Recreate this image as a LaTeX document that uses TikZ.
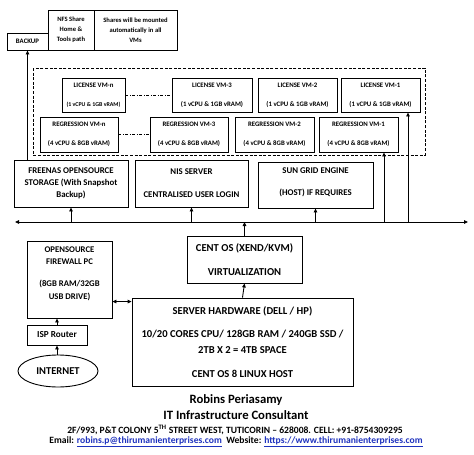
\documentclass[tikz,border=0pt]{standalone}
\usepackage{fontspec}
\setmainfont{Carlito}
\usetikzlibrary{shapes.geometric,arrows.meta}
\definecolor{linkblue}{RGB}{30,50,190}
\newcommand{\fs}[2]{\fontsize{#1}{#2}\selectfont}
\begin{document}
\begin{tikzpicture}[x=1pt,y=-1pt,
  box/.style={draw,line width=0.9pt,inner sep=0pt,align=center,font=\bfseries\fs{6.8}{8}},
  bigbox/.style={box,font=\bfseries\fs{8.8}{12}},
  txt/.style={inner sep=0pt,align=center},
  arr/.style={line width=0.9pt,-{Triangle[length=4pt,width=3.6pt]}},
  darr/.style={line width=0.9pt,{Triangle[length=4pt,width=3.6pt]}-{Triangle[length=4pt,width=3.6pt]}},
  dd/.style={line width=0.8pt,dash pattern=on 3pt off 1.5pt on 1pt off 1.5pt}]
\useasboundingbox (0,0) rectangle (474,455);
% top boxes
\node[box,minimum width=41,minimum height=17] (backup) at (27.5,41.5) {BACKUP};
\node[box,font=\bfseries\fs{6.6}{10},minimum width=46,minimum height=40] (nfs) at (71,30) {NFS Share\\Home \&\\Tools path};
\node[box,font=\bfseries\fs{6.6}{10},minimum width=83,minimum height=40] (shares) at (135.5,30) {Shares will be mounted\\automatically in all\\VMs};
% dashed VM area
\draw[line width=0.8pt,dash pattern=on 3pt off 1.6pt] (33,68) rectangle (425,155);
% license row
\node[box,minimum width=63,minimum height=34] (licn) at (93.5,95) {LICENSE VM-n\\[11pt]{\fs{5.9}{8}(1 vCPU \& 1GB vRAM)}};
\node[box,minimum width=80,minimum height=34] (lic3) at (212,95) {LICENSE VM-3\\[11pt](1 vCPU \& 1GB vRAM)};
\node[box,minimum width=79,minimum height=34] (lic2) at (297.5,95) {LICENSE VM-2\\[11pt](1 vCPU \& 1GB vRAM)};
\node[box,minimum width=79,minimum height=34] (lic1) at (380.5,95) {LICENSE VM-1\\[11pt](1 vCPU \& 1GB vRAM)};
% regression row
\node[box,minimum width=78,minimum height=35] (regn) at (79,134.5) {REGRESSION VM-n\\[11pt](4 vCPU \& 8GB vRAM)};
\node[box,minimum width=78,minimum height=35] (reg3) at (189,134.5) {REGRESSION VM-3\\[11pt](4 vCPU \& 8GB vRAM)};
\node[box,minimum width=79,minimum height=35] (reg2) at (274.5,134.5) {REGRESSION VM-2\\[11pt](4 vCPU \& 8GB vRAM)};
\node[box,minimum width=79,minimum height=35] (reg1) at (358.5,134.5) {REGRESSION VM-1\\[11pt](4 vCPU \& 8GB vRAM)};
\draw[dd] (licn.east) -- (lic3.west);
\draw[dd] (regn.east) -- (reg3.west);
% service row
\node[bigbox,minimum width=114,minimum height=47] (freenas) at (71,183.5) {FREENAS OPENSOURCE\\STORAGE (With Snapshot\\Backup)};
\node[bigbox,minimum width=113,minimum height=47] (nis) at (191.5,183.5) {NIS SERVER\\[11pt]CENTRALISED USER LOGIN};
\node[box,minimum width=115,minimum height=46] (sge) at (315.5,185) {};
\node[txt,font=\bfseries\fs{8.8}{12}] (sget) at (315.5,182) {SUN GRID ENGINE\\[10pt](HOST) IF REQUIRES};
% bus
\coordinate (busL) at (15,222);
\coordinate (busR) at (468,222);
\coordinate (b1) at (384,222);
\coordinate (b2) at (408,222);
\draw[darr] (busL) -- (busR);
\draw[arr] (freenas.south |- busL) -- (freenas.south);
\draw[arr] (nis.south |- busL) -- (nis.south);
\draw[arr] (sge.south |- busL) -- (sge.south);
\draw[arr] (b1) -- (b1 |- reg1.south);
\draw[arr] (b2) -- (b2 |- lic1.south);
\draw[arr] (backup.south |- freenas.north) -- (backup.south);
% host
\node[box,font=\bfseries\fs{10.6}{13},minimum width=115,minimum height=47] (centos) at (244.5,259.5) {CENT OS (XEND/KVM)\\[11pt]VIRTUALIZATION};
\node[box,font=\bfseries\fs{10.6}{16},minimum width=221,minimum height=88] (server) at (242.5,342) {SERVER HARDWARE (DELL / HP)\\[7pt]10/20 CORES CPU/ 128GB RAM / 240GB SSD /\\2TB X 2 = 4TB SPACE\\[8pt]CENT OS 8 LINUX HOST};
\draw[arr] (centos.north) -- (centos.north |- busL);
\draw[arr] (server.north) -- (centos.south);
% firewall side
\node[box,minimum width=85,minimum height=77] (fw) at (69.5,279.5) {};
\node[txt,font=\bfseries\fs{8.7}{12.5}] (fwt) at (69.5,273.5) {OPENSOURCE\\FIREWALL PC\\[9.5pt](8GB RAM/32GB\\USB DRIVE)};
\node[box,font=\bfseries\fs{9.2}{10},minimum width=60,minimum height=20] (isp) at (57,335) {ISP Router};
\node[draw,ellipse,line width=0.9pt,inner sep=0pt,minimum width=80,minimum height=32,font=\bfseries\fs{10.5}{12}] (net) at (58,371) {INTERNET};
\coordinate (fwc) at ([yshift=-4pt]server.north west);
\draw[darr] (fw.east |- fwc) -- (fwc);
\draw[arr] (isp.north) -- (isp.north |- fw.south);
\draw[arr] (net.north) -- (net.north -| isp.south) -- (isp.south);
% footer
\node[font=\bfseries\fs{12.7}{14}] (name) at (236,400) {Robins Periasamy};
\node[font=\bfseries\fs{12.7}{14}] (title) at (236,415) {IT Infrastructure Consultant};
\node[font=\bfseries\fs{9.6}{11}] (addr) at (235,430) {2F/993, P\&T COLONY 5\textsuperscript{TH} STREET WEST, TUTICORIN – 628008. CELL: +91-8754309295};
\node[font=\bfseries\fs{9.6}{11}] (mail) at (236,442) {Email: \textcolor{linkblue}{\underline{robins.p@thirumanienterprises.com}}\ \ Website: \textcolor{linkblue}{\underline{https://www.thirumanienterprises.com}}};
\end{tikzpicture}
\end{document}
